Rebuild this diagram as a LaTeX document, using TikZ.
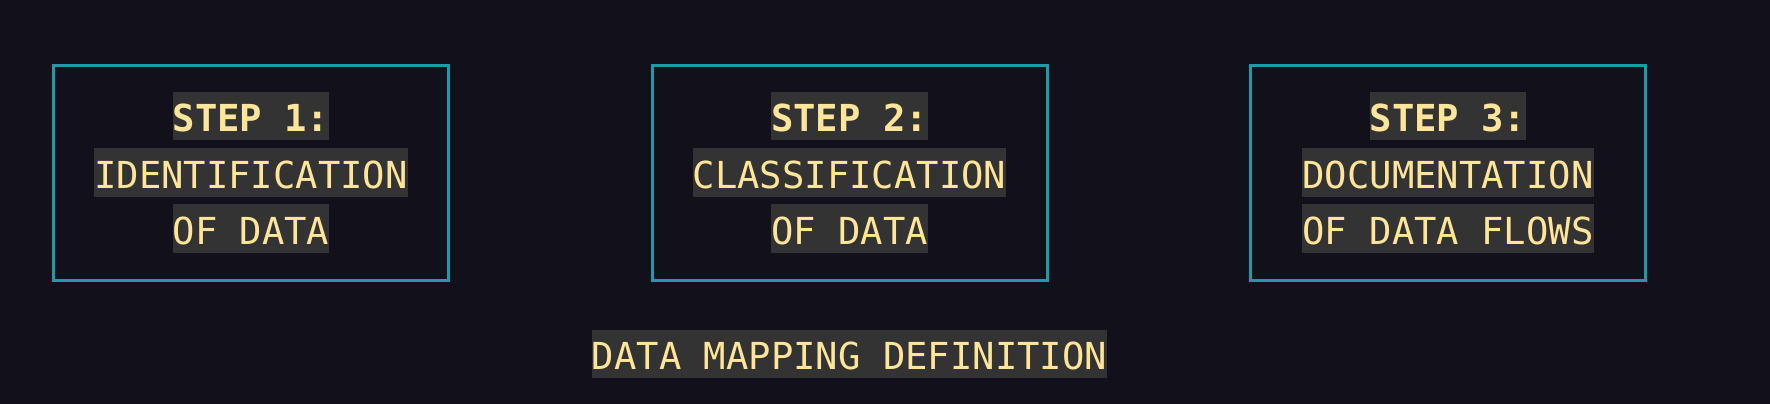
\documentclass[tikz,border=0pt]{standalone}
\usepackage{fontspec}
\newfontfamily\monofam{DejaVu Sans Mono}
\definecolor{bgc}{HTML}{12111B}
\definecolor{teal}{HTML}{1F9AA8}
\definecolor{txt}{HTML}{FFE59A}
\definecolor{hlc}{HTML}{333333}
\tikzset{
  stepbox/.style={draw=teal, line width=3pt, minimum width=395pt, minimum height=215pt, inner sep=0pt},
  hl/.style={fill=hlc, text=txt, inner xsep=0pt, inner ysep=0pt, text height=40pt, text depth=8.6pt,
    font=\monofam\fontsize{37.2}{44}\selectfont},
  hlb/.style={hl, font=\monofam\bfseries\fontsize{37.2}{44}\selectfont}
}
\begin{document}
\begin{tikzpicture}[x=1pt,y=1pt]
\fill[bgc] (0,0) rectangle (1770,-404);
\useasboundingbox (0,0) rectangle (1770,-404);
% boxes
\node[stepbox] (box1) at (251,-173) {};
\node[stepbox] (box2) at (849.5,-173) {};
\node[stepbox] (box3) at (1448,-173) {};
% box 1
\node[hlb] (b1l1) at (251,-116) {STEP 1:};
\node[hl] (b1l2) at (251,-172.3) {IDENTIFICATION};
\node[hl] (b1l3) at (251,-228.5) {OF DATA};
% box 2
\node[hlb] (b2l1) at (849.5,-116) {STEP 2:};
\node[hl] (b2l2) at (849.5,-172.3) {CLASSIFICATION};
\node[hl] (b2l3) at (849.5,-228.5) {OF DATA};
% box 3
\node[hlb] (b3l1) at (1448,-116) {STEP 3:};
\node[hl] (b3l2) at (1448,-172.3) {DOCUMENTATION};
\node[hl] (b3l3) at (1448,-228.5) {OF DATA FLOWS};
% bottom
\node[hl] (title) at (849.5,-354) {DATA MAPPING DEFINITION};
\end{tikzpicture}
\end{document}
